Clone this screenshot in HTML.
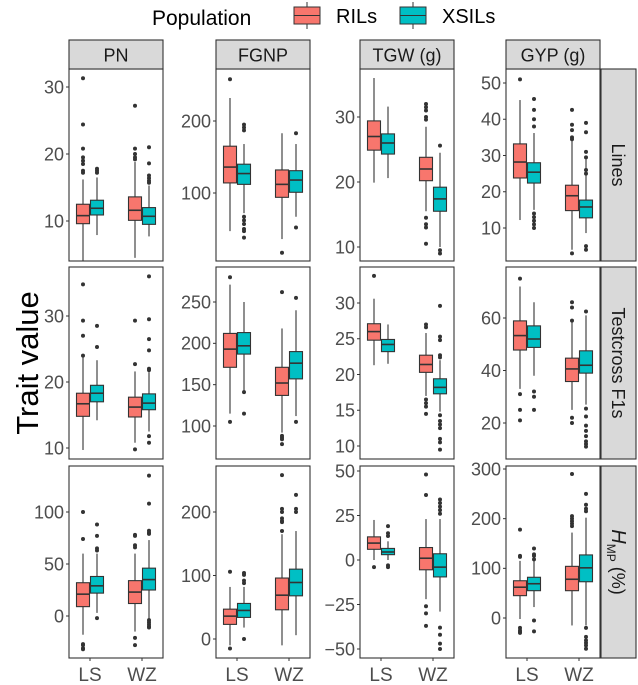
<!DOCTYPE html>
<html><head><meta charset="utf-8"><style>
html,body{margin:0;padding:0;background:#fff;}
svg{display:block;font-family:"Liberation Sans",Arial,sans-serif;}
</style></head><body>
<svg id="chart" width="638" height="685" viewBox="0 0 638 685" xmlns="http://www.w3.org/2000/svg">
<g id="legend">
<text x="152" y="25" font-size="21" fill="#000">Population</text>
<g>
<line x1="307" y1="2" x2="307" y2="29" stroke="#333" stroke-width="1"/>
<rect x="294" y="7" width="26" height="17" fill="#F8766D" stroke="#333" stroke-width="1"/>
<line x1="294" y1="15.5" x2="320" y2="15.5" stroke="#333"/>
<text x="336" y="23" font-size="20">RILs</text></g>
<g>
<line x1="413" y1="2" x2="413" y2="29" stroke="#333" stroke-width="1"/>
<rect x="400" y="7" width="26" height="17" fill="#00BFC4" stroke="#333" stroke-width="1"/>
<line x1="400" y1="15.5" x2="426" y2="15.5" stroke="#333"/>
<text x="442" y="23" font-size="20">XSILs</text></g>
</g>
<text transform="translate(38,363) rotate(-90)" text-anchor="middle" font-size="31" fill="#000">Trait value</text>
<g id="panels"></g>
</svg>
<script>
// ---- data: each box = [lowerWhisker, q1, median, q3, upperWhisker]; order: RIL-LS, XSIL-LS, RIL-WZ, XSIL-WZ
const categories = ["LS","WZ"];
const populations = ["RILs","XSILs"];
const traits = ["PN","FGNP","TGW (g)","GYP (g)"];
const rowLabels = ["Lines","Testcross F1s","HMP"];

const linesPN   = [[4,9.6,10.8,12.5,16.2],[7.9,10.9,11.9,13.1,16.5],[4.5,10.1,11.6,13.6,18.8],[7.7,9.5,10.7,12.0,15.3]];
const linesFGNP = [[47,114,136,165,232],[72,112,127,140,168],[36,94,112,132,183],[67,101,118,131,168]];
const linesTGW  = [[19.9,24.9,27,29.4,36],[20.6,24.3,26,27.4,31.6],[15.5,20.2,22,23.8,28.5],[10,15.5,17.4,19.2,24.5]];
const linesGYP  = [[12.2,23.8,28.2,33.2,45.3],[15,22.4,25.4,28,36.2],[4,14.8,18.9,21.8,34.5],[8.6,12.8,15.8,17.7,29]];
const tcPN   = [[9.7,14.8,16.7,18.3,23.8],[14.2,17,18.3,19.5,23.3],[10.8,14.7,16.2,17.7,21.6],[12.5,15.8,16.8,18.2,21.5]];
const tcFGNP = [[115,171,193,212,271],[142,187,197,213,250],[92,137,152,171,218],[112,157,176,190,240]];
const tcTGW  = [[21.3,24.8,26,27.1,30.6],[21.5,23.2,24.2,24.9,27],[17,20.3,21.4,22.7,25.8],[14.8,17.3,18.2,19.4,22]];
const tcGYP  = [[33,47.8,53.3,58.9,72],[38,48.8,52,57,66],[25,35.8,40.6,44.7,58.8],[27,39,42,47.5,61]];
const hmpPN   = [[-18,9,21,32,60],[3,22,29,38,60],[-15,12,23,34,60],[-3,25,35,46,73]];
const hmpFGNP = [[-10,23,36,47,82],[18,34,45,56,82],[-10,46,69,96,165],[6,68,89,110,170]];
const hmpTGW  = [[0,6,9.5,13,22.5],[0,3,4.5,6.5,10.5],[-22,-5.5,1,7,23],[-29,-9.5,-4,3.5,23]];
const hmpGYP  = [[-2,45,62,75,115],[22,55,69,82,120],[-15,55,78,104,172],[-15,73,101,127,202]];

// outliers per box (same order)
const outLinesPN   = [[31.3,24.4,20.8,19.5,19,18.5,17.5,17.2],[17.2,17.5,17.8],[27.2,20.8,20,19.5,19.2],[21,18.6,16.8,16.4,16,15.7]];
const outLinesFGNP = [[258],[187,191,195,67,62,57,50,47,38],[17],[183,52]];
const outLinesTGW  = [[],[],[32,31.5,31,30,29.6,14.5,13.5,13,10.5],[25.6,9.5,9]];
const outLinesGYP  = [[51],[45.6,42.6,40,38,14,13,12,11,10],[42.6,38.5,37,35,34.5,3],[39,36.4,31,29.5,26,25,5,4]];
const outTcPN   = [[34.8,29.3,27,24],[28.5,25.3],[29.3,22.7,9.8],[36,29.5,26.5,24.8,22,21.8,11.8,10.8]];
const outTcFGNP = [[280,105],[141,115],[262,88,86,84,78],[255,105]];
const outTcTGW  = [[33.8],[],[27,26.6,16.5,16,15.5,14.5],[29.6,25.3,24.8,22.7,22.4,14.3,13.5,13,12.5,11,10.5,9.5]];
const outTcGYP  = [[75,31,25,21],[32,30,25],[66,64,59,22,20],[62.5,25.5,22.5,19,17,15,13,12,11]];
const outHmpPN   = [[100,74,-27,-28,-31,-32],[88,77,65,63,-2],[78,77,68,66,-21,-28],[135,108,82,80,79,-4,-6,-8,-10,-11]];
const outHmpFGNP = [[106,-15],[104,101,92,88,0],[258,205,200,190,186,184,170],[227,205,200]];
const outHmpTGW  = [[-4],[19,15,13.5,-3,-4],[48,36.5,-26,-30,-37],[34,32,30,28,26,-38,-42,-47,-50]];
const outHmpGYP  = [[178,125,123,-20,-25,-28,-30],[140,128,125,118,-5,-27],[290,205,200,195,190,185],[250,228,220,215,-20,-38,-45,-50,-55,-62]];

// tick labels
const ticksLinesPN=[10,20,30], ticksLinesFGNP=[100,200], ticksLinesTGW=[10,20,30], ticksLinesGYP=[10,20,30,40,50];
const ticksTcPN=[10,20,30], ticksTcFGNP=[100,150,200,250], ticksTcTGW=[10,15,20,25,30], ticksTcGYP=[20,40,60];
const ticksHmpPN=[0,50,100], ticksHmpFGNP=[0,100,200], ticksHmpTGW=[-50,-25,0,25,50], ticksHmpGYP=[0,100,200,300];

// ---- layout (pixel calibration of each panel's y axis: two values and their pixel y)
const colX=[69,216,360,506], panelW=94;
const rowY=[69,267,466], panelH=192;
const calib=[
 [[10,221,30,87],[100,193,200,121],[20,182,30,117],[10,228,50,83]],
 [[10,448,30,316],[100,426,250,302],[10,446,30,303],[20,423,60,318]],
 [[0,616,100,512],[0,639,200,512],[-50,649,50,471],[0,618,300,469]]
];
const boxes=[[linesPN,linesFGNP,linesTGW,linesGYP],[tcPN,tcFGNP,tcTGW,tcGYP],[hmpPN,hmpFGNP,hmpTGW,hmpGYP]];
const outs=[[outLinesPN,outLinesFGNP,outLinesTGW,outLinesGYP],[outTcPN,outTcFGNP,outTcTGW,outTcGYP],[outHmpPN,outHmpFGNP,outHmpTGW,outHmpGYP]];
const ticks=[[ticksLinesPN,ticksLinesFGNP,ticksLinesTGW,ticksLinesGYP],[ticksTcPN,ticksTcFGNP,ticksTcTGW,ticksTcGYP],[ticksHmpPN,ticksHmpFGNP,ticksHmpTGW,ticksHmpGYP]];
const fills=["#F8766D","#00BFC4"];
const NS="http://www.w3.org/2000/svg";
const root=document.getElementById('panels');
function mk(tag,attrs,parent){const e=document.createElementNS(NS,tag);for(const k in attrs)e.setAttribute(k,attrs[k]);(parent||root).appendChild(e);return e;}
function slug(s){return s.toLowerCase().replace(/[^a-z0-9]+/g,'-').replace(/-$/,'');}
function xScale(ci){return 21+ci*52;}
const defs=mk('defs',{});
for(let r=0;r<3;r++){
 for(let c=0;c<4;c++){
  const px=colX[c], py=rowY[r];
  const cal=calib[r][c];
  const y=v=>cal[1]+(v-cal[0])*(cal[3]-cal[1])/(cal[2]-cal[0]);
  const cp=mk('clipPath',{id:'cp'+r+c},defs);
  mk('rect',{x:px,y:py,width:panelW,height:panelH},cp);
  const g=mk('g',{});
  
  
  mk('rect',{x:px,y:py,width:panelW,height:panelH,fill:'#fff',stroke:'none'},g);
  ticks[r][c].forEach(t=>{
   const ty=y(t);
   const tk=mk('line',{x1:px-3,x2:px,y1:ty,y2:ty,stroke:'#333','stroke-width':1},g);
   
   
   const tl=mk('text',{x:px-5,y:ty+6.3,'text-anchor':'end','font-size':18,fill:'#4d4d4d'},g);
   
   
   tl.textContent=(t<0?'\u2212'+(-t):String(t));
  });
  const inner=mk('g',{'clip-path':'url(#cp'+r+c+')'},g);
  for(let ci=0;ci<2;ci++){
   for(let pi=0;pi<2;pi++){
    const k=ci*2+pi;
    const b=boxes[r][c][k];
    const cx=px+xScale(ci)+(pi===0?-7:7);
    const bx=mk('g',{},inner);
    
    
    mk('line',{x1:cx,x2:cx,y1:y(b[0]),y2:y(b[4]),stroke:'#333','stroke-width':1.1},bx);
    mk('rect',{x:cx-6.5,y:y(b[3]),width:13,height:y(b[1])-y(b[3]),fill:fills[pi],stroke:'#333','stroke-width':1.1},bx);
    mk('line',{x1:cx-6.5,x2:cx+6.5,y1:y(b[2]),y2:y(b[2]),stroke:'#333','stroke-width':1.6},bx);
    outs[r][c][k].forEach(o=>{
     const d=mk('circle',{cx:cx,cy:y(o),r:2,fill:'#333'},bx);
     
     
    });
   }
  }
  mk('rect',{x:px,y:py,width:panelW,height:panelH,fill:'none',stroke:'#333','stroke-width':1.1},g);
  if(r===2){
   for(let ci=0;ci<2;ci++){
    const xx=px+xScale(ci);
    const t=mk('line',{x1:xx,x2:xx,y1:py+panelH,y2:py+panelH+3,stroke:'#333'},g);
    
    
    const tl=mk('text',{x:xx,y:681,'text-anchor':'middle','font-size':19,fill:'#4d4d4d'},g);
    
    
    tl.textContent=categories[ci];
   }
  }
 }
}
for(let c=0;c<4;c++){
 const s=mk('g',{});
 
 
 mk('rect',{x:colX[c],y:40,width:panelW,height:29,fill:'#d9d9d9',stroke:'#333','stroke-width':1.1},s);
 const t=mk('text',{x:colX[c]+panelW/2,y:61.5,'text-anchor':'middle','font-size':18,fill:'#1a1a1a'},s);
 t.textContent=traits[c];
}
for(let r=0;r<3;r++){
 const s=mk('g',{});
 
 
 mk('rect',{x:601,y:rowY[r],width:35,height:panelH,fill:'#d9d9d9',stroke:'#333','stroke-width':1.1},s);
 const cy=rowY[r]+panelH/2;
 const t=mk('text',{transform:'translate(612,'+cy+') rotate(90)','text-anchor':'middle','font-size':18,fill:'#1a1a1a'},s);
 if(r<2){t.textContent=rowLabels[r];}
 else{
  const a=mk('tspan',{'font-style':'italic','font-size':20},t);a.textContent='H';
  const b=mk('tspan',{'font-size':12,dy:5},t);b.textContent='MP';
  const d=mk('tspan',{dy:-5,'font-size':18},t);d.textContent=' (%)';
 }
}
</script>
</body></html>
